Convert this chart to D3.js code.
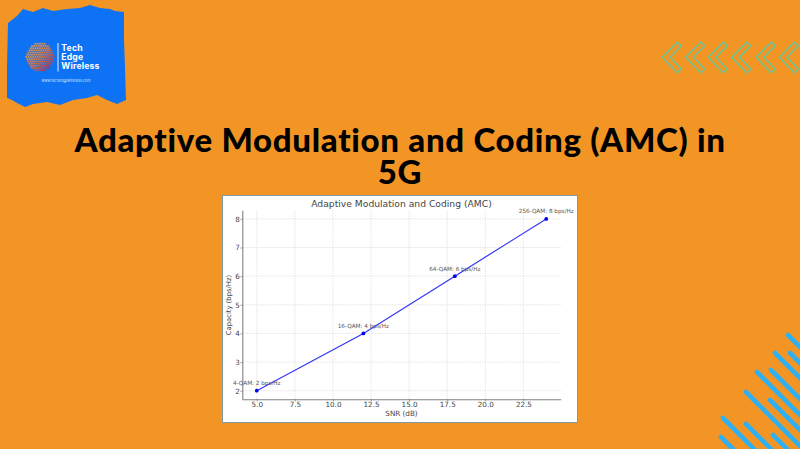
<!DOCTYPE html>
<html>
<head>
<meta charset="utf-8">
<script src="https://cdn.jsdelivr.net/npm/d3@7"></script>
<style>
  html, body { margin: 0; padding: 0; background: #f29525; }
  svg { display: block; }
  .tick text { font-family: "DejaVu Sans", sans-serif; }
</style>
</head>
<body>
<script>
// data
const modulations = ['4-QAM', '16-QAM', '64-QAM', '256-QAM'];
const snrValues = [5, 12, 18, 24];
const capacityValues = [2, 4, 6, 8];
const xTickValues = [5, 7.5, 10, 12.5, 15, 17.5, 20, 22.5];
const yTickValues = [2, 3, 4, 5, 6, 7, 8];
const titleLines = ['Adaptive Modulation and Coding (AMC) in', '5G'];
const logoLines = ['Tech', 'Edge', 'Wireless'];

const width = 800;
const height = 449;

const svg = d3.select('body')
  .append('svg')
  .attr('width', width)
  .attr('height', height);

svg.append('rect')
  .attr('width', width)
  .attr('height', height)
  .attr('fill', '#f29525');

// ! Logo
const logoOutline = [
  [8, 23], [17, 16], [23, 9], [33, 12], [43, 8], [53, 11], [67, 9], [80, 8], [90, 5], [100, 8],
  [110, 9], [115, 11], [124, 12], [124, 40], [125, 67], [126, 100], [117, 104], [107, 100],
  [97, 95], [87, 98], [73, 100], [60, 105], [47, 102], [33, 104], [25, 107], [17, 103], [10, 99],
  [7, 98], [7, 67],
];
const logo = svg.append('g');
logo.append('path')
  .attr('d', d3.line()(logoOutline) + 'Z')
  .attr('fill', '#0e72f5');

// globe of small dots
logo.append('circle')
  .attr('cx', 40)
  .attr('cy', 57)
  .attr('r', 14.3)
  .attr('fill', '#4a6cc0');
const globeDots = [];
for (let row = -6; row <= 6; row += 1) {
  for (let col = -6; col <= 6; col += 1) {
    const dx = (col + (row % 2 ? 0.5 : 0)) * 2.3;
    const dy = row * 2.2;
    if (dx * dx + dy * dy <= 14 * 14) globeDots.push([40 + dx, 57 + dy]);
  }
}
const globeColor = d3.scaleLinear()
  .domain([-14, 0, 14])
  .range(['#c49a62', '#dd7f3c', '#b0484f']);
logo.selectAll('circle.globe')
  .data(globeDots)
  .enter()
  .append('circle')
  .attr('class', 'globe')
  .attr('cx', (d) => d[0])
  .attr('cy', (d) => d[1])
  .attr('r', 0.95)
  .attr('fill', (d) => globeColor(d[0] - 40 + d[1] - 57));
logo.append('rect')
  .attr('x', 57.3)
  .attr('y', 43)
  .attr('width', 1.4)
  .attr('height', 28.5)
  .attr('fill', '#a9cdfb');
logo.selectAll('text.name')
  .data(logoLines)
  .enter()
  .append('text')
  .attr('class', 'name')
  .attr('x', 61.3)
  .attr('y', (d, i) => 50.7 + i * 9)
  .attr('font-family', 'Inter, sans-serif')
  .attr('font-weight', 700)
  .attr('font-size', 8.6)
  .attr('letter-spacing', 0.2)
  .attr('fill', '#ffffff')
  .text((d) => d);
logo.append('text')
  .attr('x', 66)
  .attr('y', 82)
  .attr('text-anchor', 'middle')
  .attr('font-family', 'Inter, sans-serif')
  .attr('font-size', 3.7)
  .attr('fill', '#cfe2fd')
  .text('www.techedgewireless.com');

// ! Chevrons top right
const chevronOffsets = [662.3, 685.7, 708.3, 731.7, 756.3, 779.3];
const chevron = [[0, 27.3], [15, 12.3], [19, 15.7], [7.7, 27.3], [19, 39], [15, 42.7]];
svg.selectAll('path.chevron')
  .data(chevronOffsets)
  .enter()
  .append('path')
  .attr('class', 'chevron')
  .attr('d', d3.line()(chevron) + 'Z')
  .attr('transform', (d) => `translate(${d}, 30)`)
  .attr('fill', 'none')
  .attr('stroke', '#63c79c')
  .attr('stroke-width', 1.4);

// ! Diagonal stripes bottom right, start point and length
const stripes = [
  [788, 335, 30], [775, 353, 40], [790, 353, 30], [757, 372, 70], [771, 370, 50], [746, 392, 90],
  [770, 400, 50], [723, 418, 45], [746, 424, 40], [773, 435, 30], [721, 437, 20],
];
svg.selectAll('line.stripe')
  .data(stripes)
  .enter()
  .append('line')
  .attr('class', 'stripe')
  .attr('x1', (d) => d[0])
  .attr('y1', (d) => d[1])
  .attr('x2', (d) => d[0] + d[2])
  .attr('y2', (d) => d[1] + d[2])
  .attr('stroke', '#2fb0f2')
  .attr('stroke-width', 4.6)
  .attr('stroke-linecap', 'round');

// ! Title, one text with two lines
const pageTitle = svg.append('text')
  .attr('class', 'title')
  .attr('font-family', 'Lato, sans-serif')
  .attr('font-weight', 900)
  .attr('font-size', 33)
  .attr('letter-spacing', 0.7)
  .style('font-variant-ligatures', 'none')
  .attr('text-anchor', 'middle')
  .attr('fill', '#000000');
pageTitle.selectAll('tspan')
  .data(titleLines)
  .enter()
  .append('tspan')
  .attr('x', 400)
  .attr('y', (d, i) => 152 + i * 32)
  .text((d) => d);

// ! Chart card
svg.append('rect')
  .attr('x', 222.5)
  .attr('y', 195.5)
  .attr('width', 355)
  .attr('height', 227)
  .attr('fill', '#ffffff')
  .attr('stroke', '#7f9aa3')
  .attr('stroke-width', 1);

const x = d3.scaleLinear().domain([4.05, 24.95]).range([242.3, 560.7]);
const y = d3.scaleLinear().domain([1.7, 8.3]).range([399.3, 210.3]);

const gridColor = '#dedede';
svg.append('g')
  .selectAll('line')
  .data(xTickValues)
  .enter()
  .append('line')
  .attr('x1', (d) => x(d))
  .attr('x2', (d) => x(d))
  .attr('y1', y.range()[0])
  .attr('y2', y.range()[1])
  .attr('stroke', gridColor)
  .attr('stroke-width', 0.8)
  .attr('stroke-dasharray', '1.5 1');
svg.append('g')
  .selectAll('line')
  .data(yTickValues)
  .enter()
  .append('line')
  .attr('x1', x.range()[0])
  .attr('x2', x.range()[1])
  .attr('y1', (d) => y(d))
  .attr('y2', (d) => y(d))
  .attr('stroke', gridColor)
  .attr('stroke-width', 0.8)
  .attr('stroke-dasharray', '1.5 1');

// * Axes
const xAxis = svg.append('g')
  .attr('transform', `translate(0, ${y.range()[0]})`)
  .call(d3.axisBottom(x).tickValues(xTickValues).tickFormat(d3.format('.1f')).tickSizeInner(2)
    .tickSizeOuter(0)
    .tickPadding(0.5))
  .attr('font-size', 7.2);
const yAxis = svg.append('g')
  .attr('transform', `translate(${x.range()[0]}, 0)`)
  .call(d3.axisLeft(y).tickValues(yTickValues).tickFormat(d3.format('d')).tickSizeInner(2)
    .tickSizeOuter(0)
    .tickPadding(0.5))
  .attr('font-size', 7.2);
[xAxis, yAxis].forEach((axis) => {
  axis.select('.domain').attr('stroke', '#808080').attr('stroke-width', 1.1);
  axis.selectAll('.tick line').attr('stroke', '#666666').attr('stroke-width', 0.6);
  axis.selectAll('.tick text').attr('fill', '#444444');
});

const labelFont = '"DejaVu Sans", sans-serif';
svg.append('text')
  .attr('x', 401.5)
  .attr('y', 206.5)
  .attr('text-anchor', 'middle')
  .attr('font-family', labelFont)
  .attr('font-size', 9.2)
  .attr('fill', '#444444')
  .text('Adaptive Modulation and Coding (AMC)');
svg.append('text')
  .attr('x', 401.5)
  .attr('y', 416)
  .attr('text-anchor', 'middle')
  .attr('font-family', labelFont)
  .attr('font-size', 7.2)
  .attr('fill', '#444444')
  .text('SNR (dB)');
svg.append('text')
  .attr('transform', 'translate(231, 305) rotate(-90)')
  .attr('text-anchor', 'middle')
  .attr('font-family', labelFont)
  .attr('font-size', 6.8)
  .attr('fill', '#444444')
  .text('Capacity (bps/Hz)');

// * Line and points
const points = modulations.map((name, i) => ({
  name, snr: snrValues[i], capacity: capacityValues[i],
}));
svg.append('path')
  .datum(points)
  .attr('d', d3.line().x((d) => x(d.snr)).y((d) => y(d.capacity)))
  .attr('fill', 'none')
  .attr('stroke', '#3535f5')
  .attr('stroke-width', 1.2);
svg.selectAll('circle.point')
  .data(points)
  .enter()
  .append('circle')
  .attr('class', 'point')
  .attr('cx', (d) => x(d.snr))
  .attr('cy', (d) => y(d.capacity))
  .attr('r', 1.9)
  .attr('fill', '#0000f0');
svg.selectAll('text.point-label')
  .data(points)
  .enter()
  .append('text')
  .attr('class', 'point-label')
  .attr('x', (d) => x(d.snr))
  .attr('y', (d) => y(d.capacity) - 5.5)
  .attr('text-anchor', 'middle')
  .attr('font-family', labelFont)
  .attr('font-size', 5.7)
  .attr('fill', '#555555')
  .text((d) => `${d.name}: ${d.capacity} bps/Hz`);
</script>
</body>
</html>
